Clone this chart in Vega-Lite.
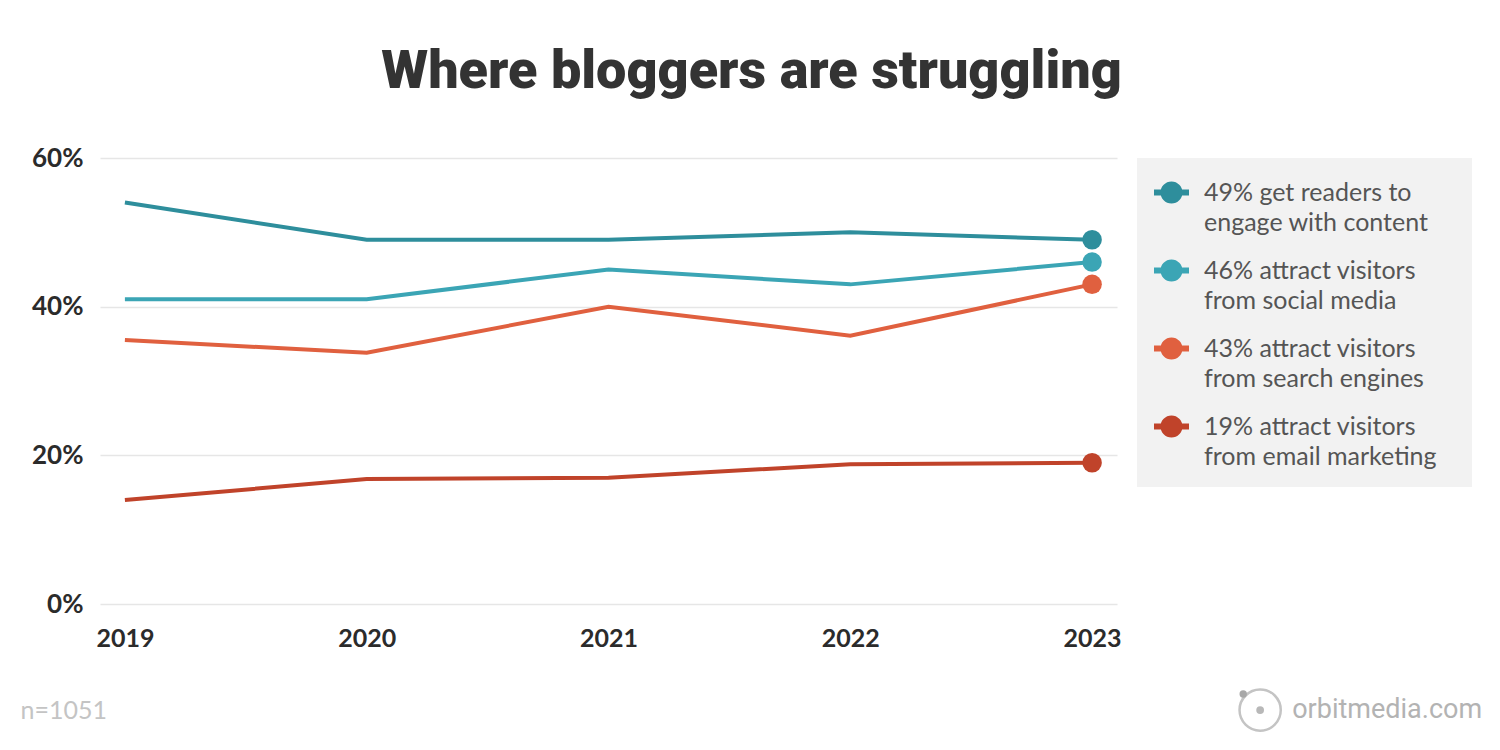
{
  "$schema": "https://vega.github.io/schema/vega-lite/v6.json",
  "autosize": {"type": "none"},
  "width": 1017,
  "height": 446,
  "padding": {"left": 100, "top": 158, "right": 383, "bottom": 146},
  "background": "white",
  "title": {
    "text": "Where bloggers are struggling",
    "font": "Roboto",
    "fontWeight": 900,
    "fontSize": 54,
    "color": "#333333",
    "anchor": "middle",
    "dx": 143,
    "offset": 46
  },
  "data": {
    "values": [
      {"year": 2019, "series": "49% get readers to|engage with content", "value": 0.54},
      {"year": 2020, "series": "49% get readers to|engage with content", "value": 0.49},
      {"year": 2021, "series": "49% get readers to|engage with content", "value": 0.49},
      {"year": 2022, "series": "49% get readers to|engage with content", "value": 0.50},
      {"year": 2023, "series": "49% get readers to|engage with content", "value": 0.49},
      {"year": 2019, "series": "46% attract visitors|from social media", "value": 0.41},
      {"year": 2020, "series": "46% attract visitors|from social media", "value": 0.41},
      {"year": 2021, "series": "46% attract visitors|from social media", "value": 0.45},
      {"year": 2022, "series": "46% attract visitors|from social media", "value": 0.43},
      {"year": 2023, "series": "46% attract visitors|from social media", "value": 0.46},
      {"year": 2019, "series": "43% attract visitors|from search engines", "value": 0.355},
      {"year": 2020, "series": "43% attract visitors|from search engines", "value": 0.338},
      {"year": 2021, "series": "43% attract visitors|from search engines", "value": 0.40},
      {"year": 2022, "series": "43% attract visitors|from search engines", "value": 0.361},
      {"year": 2023, "series": "43% attract visitors|from search engines", "value": 0.43},
      {"year": 2019, "series": "19% attract visitors|from email marketing", "value": 0.14},
      {"year": 2020, "series": "19% attract visitors|from email marketing", "value": 0.168},
      {"year": 2021, "series": "19% attract visitors|from email marketing", "value": 0.17},
      {"year": 2022, "series": "19% attract visitors|from email marketing", "value": 0.188},
      {"year": 2023, "series": "19% attract visitors|from email marketing", "value": 0.19}
    ]
  },
  "encoding": {
    "x": {
      "field": "year",
      "type": "quantitative",
      "scale": {"domain": [2018.897, 2023.103], "nice": false, "zero": false},
      "axis": {
        "values": [2019, 2020, 2021, 2022, 2023],
        "format": "d",
        "grid": false,
        "domain": false,
        "ticks": false,
        "labelFlush": true,
        "labelPadding": 22,
        "labelFont": "Lato",
        "labelFontSize": 25,
        "labelFontWeight": "bold",
        "labelColor": "#2b2b2b",
        "title": "n=1051",
        "titleAnchor": "start",
        "titleAlign": "left",
        "titleBaseline": "middle",
        "titleX": -80,
        "titleY": 106,
        "titleFont": "Lato",
        "titleFontSize": 25,
        "titleFontWeight": "normal",
        "titleColor": "#c4c4c4"
      }
    },
    "y": {
      "field": "value",
      "type": "quantitative",
      "scale": {"domain": [0, 0.6], "nice": false},
      "axis": {
        "values": [0, 0.2, 0.4, 0.6],
        "format": ".0%",
        "title": null,
        "domain": false,
        "ticks": false,
        "labelPadding": 17,
        "labelFont": "Lato",
        "labelFontSize": 26,
        "labelFontWeight": "bold",
        "labelColor": "#2b2b2b",
        "gridColor": "#e6e6e6",
        "gridWidth": 1.5
      }
    }
  },
  "layer": [
    {
      "mark": {"type": "line", "strokeWidth": 4},
      "encoding": {
        "color": {
          "field": "series",
          "type": "nominal",
          "sort": null,
          "scale": {
            "domain": [
              "49% get readers to|engage with content",
              "46% attract visitors|from social media",
              "43% attract visitors|from search engines",
              "19% attract visitors|from email marketing"
            ],
            "range": ["#2e8e9c", "#3ba5b5", "#e0603f", "#c0432a"]
          },
          "legend": {
            "title": null,
            "orient": "none",
            "legendX": 1037,
            "legendY": 0,
            "fillColor": "#f2f2f2",
            "padding": 17,
            "rowPadding": 17,
            "labelExpr": "split(datum.label + '\u2800', '|')",
            "labelFont": "Lato",
            "labelFontSize": 25,
            "labelColor": "#555555",
            "labelLimit": 0,
            "labelOffset": 15,
            "symbolType": "M-1,-0.17 L1,-0.17 L1,0.17 L-1,0.17 Z M-0.63,0 A0.63,0.63 0 1,1 0.63,0 A0.63,0.63 0 1,1 -0.63,0 Z",
            "symbolSize": 1225,
            "symbolStrokeWidth": 0,
            "symbolOpacity": 1,
            "encode": {
              "labels": {"update": {"lineHeight": {"value": 30}}}
            }
          }
        }
      }
    },
    {
      "transform": [{"filter": "datum.year == 2023"}],
      "mark": {"type": "point", "filled": true, "shape": "circle", "size": 380, "opacity": 1},
      "encoding": {
        "color": {"field": "series", "type": "nominal", "sort": null}
      }
    },
    {
      "transform": [{"filter": "datum.year == 2019 && indexof(datum.series, '49%') == 0"}],
      "layer": [
        {
          "mark": {"type": "point", "shape": "circle", "filled": false, "stroke": "#c4c4c4", "strokeWidth": 2.5, "size": 1700, "opacity": 1, "clip": false},
          "encoding": {"x": {"datum": 2023.695}, "y": {"datum": -0.1427}}
        },
        {
          "mark": {"type": "point", "shape": "circle", "filled": true, "fill": "#b8b8b8", "size": 60, "opacity": 1, "clip": false},
          "encoding": {"x": {"datum": 2023.695}, "y": {"datum": -0.1427}}
        },
        {
          "mark": {"type": "point", "shape": "circle", "filled": true, "fill": "#a8a8a8", "size": 55, "opacity": 1, "clip": false},
          "encoding": {"x": {"datum": 2023.625}, "y": {"datum": -0.121}}
        },
        {
          "mark": {"type": "text", "align": "right", "baseline": "middle", "font": "Roboto", "fontSize": 27, "color": "#b3b3b3", "clip": false},
          "encoding": {"x": {"datum": 2024.613}, "y": {"datum": -0.1427}, "text": {"value": "orbitmedia.com"}}
        }
      ]
    }
  ],
  "config": {
    "view": {"stroke": null},
    "font": "Lato"
  }
}
